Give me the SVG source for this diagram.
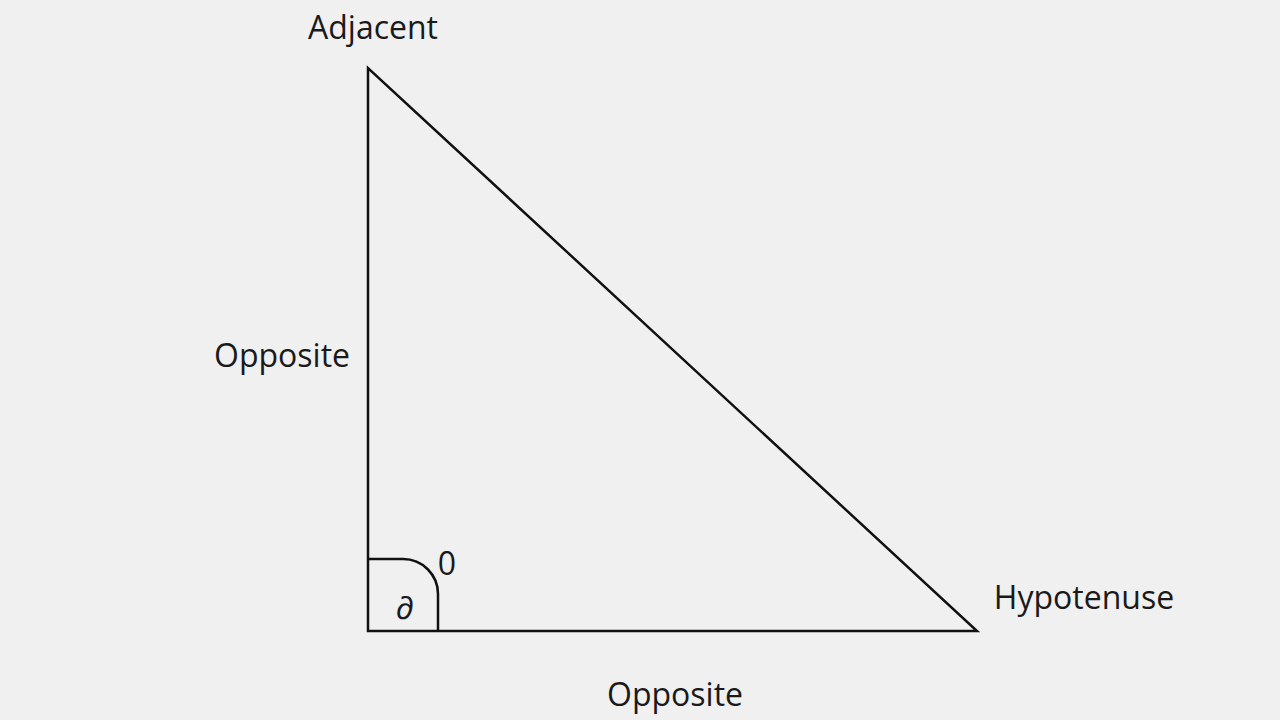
<svg xmlns="http://www.w3.org/2000/svg" width="1280" height="720" viewBox="0 0 1280 720">
<style>
.l{fill:none;stroke:#111;stroke-width:2.5}
text{font-family:"Open Sans","Noto Sans",sans-serif;font-size:32px;fill:#1a1a1a}
</style>
<rect width="1280" height="720" fill="#f0f0f0"/>
<g id="triangle"><path class="l" d="M368,68 L368,631 L977,631 Z"/></g>
<g id="angle"><path class="l" d="M368,559 H403 A35,35 0 0 1 438,594 V631"/>
<text x="405" y="619" text-anchor="middle" font-size="52">∂</text>
<text x="447" y="575" text-anchor="middle">0</text></g>
<g id="labels">
<text x="373" y="39" text-anchor="middle">Adjacent</text>
<text x="282" y="367" text-anchor="middle">Opposite</text>
<text x="1084" y="609" text-anchor="middle">Hypotenuse</text>
<text x="675" y="706" text-anchor="middle">Opposite</text>
</g>
</svg>
